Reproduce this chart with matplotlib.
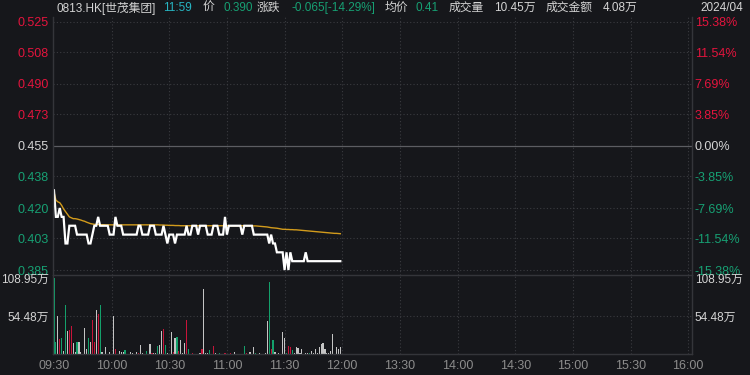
import matplotlib.pyplot as plt

plt.rcParams['font.family'] = ['Liberation Sans', 'Noto Sans CJK SC']

# 分时数据 (09:30 - 11:59, 每分钟一个点)
price = [
    0.430, 0.415, 0.415, 0.420, 0.415, 0.415, 0.400, 0.400, 0.410, 0.410,
    0.410, 0.410, 0.405, 0.405, 0.405, 0.405, 0.405, 0.405, 0.400, 0.400,
    0.405, 0.410, 0.410, 0.415, 0.410, 0.410, 0.410, 0.410, 0.410, 0.405,
    0.405, 0.405, 0.415, 0.410, 0.410, 0.410, 0.405, 0.405, 0.405, 0.405,
    0.405, 0.405, 0.405, 0.405, 0.410, 0.410, 0.405, 0.405, 0.405, 0.405,
    0.410, 0.410, 0.410, 0.405, 0.405, 0.405, 0.405, 0.410, 0.405, 0.400,
    0.405, 0.405, 0.405, 0.400, 0.405, 0.405, 0.405, 0.405, 0.405, 0.410,
    0.405, 0.405, 0.410, 0.410, 0.410, 0.405, 0.410, 0.410, 0.410, 0.410,
    0.405, 0.405, 0.405, 0.410, 0.410, 0.410, 0.405, 0.405, 0.405, 0.415,
    0.405, 0.410, 0.410, 0.410, 0.410, 0.410, 0.410, 0.410, 0.405, 0.410,
    0.410, 0.410, 0.410, 0.410, 0.405, 0.405, 0.405, 0.405, 0.405, 0.405,
    0.405, 0.405, 0.400, 0.405, 0.400, 0.400, 0.395, 0.395, 0.395, 0.395,
    0.385, 0.395, 0.385, 0.395, 0.390, 0.390, 0.390, 0.390, 0.390, 0.390,
    0.390, 0.395, 0.390, 0.390, 0.390, 0.390, 0.390, 0.390, 0.390, 0.390,
    0.390, 0.390, 0.390, 0.390, 0.390, 0.390, 0.390, 0.390, 0.390, 0.390,
]

avg_price = [
    0.4290, 0.4245, 0.4235, 0.4230, 0.4215, 0.4195, 0.4180, 0.4165, 0.4150, 0.4145,
    0.4140, 0.4140, 0.4138, 0.4135, 0.4132, 0.4128, 0.4125, 0.4120, 0.4116, 0.4112,
    0.4110, 0.4108, 0.4107, 0.4107, 0.4106, 0.4106, 0.4106, 0.4105, 0.4105, 0.4105,
    0.4105, 0.4105, 0.4105, 0.4105, 0.4105, 0.4105, 0.4105, 0.4105, 0.4105, 0.4105,
    0.4105, 0.4105, 0.4105, 0.4105, 0.4105, 0.4105, 0.4105, 0.4105, 0.4105, 0.4105,
    0.4105, 0.4105, 0.4105, 0.4105, 0.4105, 0.4104, 0.4104, 0.4104, 0.4103, 0.4103,
    0.4102, 0.4102, 0.4102, 0.4101, 0.4101, 0.4101, 0.4100, 0.4100, 0.4100, 0.4100,
    0.4100, 0.4100, 0.4100, 0.4100, 0.4100, 0.4100, 0.4100, 0.4100, 0.4100, 0.4100,
    0.4100, 0.4100, 0.4100, 0.4100, 0.4100, 0.4100, 0.4100, 0.4100, 0.4100, 0.4100,
    0.4100, 0.4100, 0.4100, 0.4100, 0.4100, 0.4100, 0.4100, 0.4100, 0.4100, 0.4100,
    0.4100, 0.4100, 0.4100, 0.4100, 0.4099, 0.4099, 0.4098, 0.4097, 0.4096, 0.4095,
    0.4094, 0.4093, 0.4091, 0.4089, 0.4088, 0.4087, 0.4086, 0.4084, 0.4082, 0.4080,
    0.4080, 0.4079, 0.4079, 0.4078, 0.4078, 0.4077, 0.4077, 0.4076, 0.4075, 0.4074,
    0.4073, 0.4072, 0.4071, 0.4070, 0.4069, 0.4068, 0.4067, 0.4066, 0.4065, 0.4064,
    0.4063, 0.4062, 0.4061, 0.4060, 0.4059, 0.4058, 0.4057, 0.4057, 0.4056, 0.4055,
]

# 成交量 (万) 和颜色: r 上涨, g 下跌, w 平
volume = [
    108.95, 17.2, 55.4, 21.4, 23.7, 4.0, 70.8, 33.0, 34.4, 40.4,
    15.8, 2.7, 18.0, 16.8, 2.7, 0.5, 37.7, 7.9, 23.7, 16.8,
    49.0, 18.0, 63.3, 57.2, 70.3, 3.3, 0.0, 9.8, 0.0, 3.3,
    0.0, 55.4, 7.9, 0.0, 4.0, 3.0, 2.5, 6.0, 0.0, 0.0,
    3.0, 1.5, 0.0, 3.0, 1.5, 13.5, 1.5, 0.0, 5.0, 0.0,
    14.4, 1.5, 1.5, 1.5, 11.2, 13.5, 33.5, 36.7, 12.6, 1.5,
    0.0, 31.3, 3.0, 23.7, 24.1, 4.0, 20.5, 1.5, 15.8, 49.0,
    6.5, 0.0, 1.0, 0.0, 0.0, 0.0, 1.0, 7.4, 93.6, 1.5,
    2.0, 6.0, 0.0, 11.2, 1.0, 0.0, 1.0, 0.0, 0.0, 1.0,
    0.0, 0.0, 1.0, 0.0, 3.5, 0.0, 0.0, 0.0, 0.0, 11.2,
    1.0, 0.0, 3.3, 0.0, 9.8, 2.0, 0.0, 1.0, 0.0, 0.0,
    1.0, 47.0, 104.3, 7.4, 20.0, 3.3, 0.0, 1.0, 0.0, 32.4,
    23.0, 2.0, 11.2, 9.8, 6.0, 1.0, 9.8, 9.0, 1.0, 7.9,
    0.0, 0.8, 0.8, 1.0, 4.0, 2.0, 7.9, 2.0, 9.8, 14.7,
    16.0, 6.5, 0.8, 0.8, 5.0, 28.3, 0.0, 9.8, 6.5, 9.4,
]
vol_dir = list(
    "ggwrgwgwrr"
    "wwgwwwwwgw"
    "rrwrgwwwww"
    "wwrwwwwgww"
    "wwwwrwwwgw"
    "wrwwgwwrgw"
    "wwrwgrwwwr"
    "gwrwwwwrww"
    "wgwrwwgwwr"
    "wwrwwwwwwg"
    "rwwwwgwwww"
    "wwgrgwwwww"
    "wgrrgwwwww"
    "wwwgwwwwww"
    "wwwwwwwwww"
)

prev_close = 0.455
price_ticks = [0.525, 0.508, 0.490, 0.473, 0.455, 0.438, 0.420, 0.403, 0.385]
pct_labels = ['15.38%', '11.54%', '7.69%', '3.85%', '0.00%',
              '-3.85%', '-7.69%', '-11.54%', '-15.38%']
vol_ticks = [108.95, 54.48]
vol_labels = ['108.95万', '54.48万']
time_labels = ['09:30', '10:00', '10:30', '11:00', '11:30', '12:00',
               '13:30', '14:00', '14:30', '15:00', '15:30', '16:00']

bg = '#16171b'
red = '#e3143d'
green = '#17a073'
grey_txt = '#d4d4d4'
grid_c = '#3a3b40'
border_c = '#34353a'
bar_colors = {'r': '#c8143a', 'g': '#14a06b', 'w': '#c4c4c4'}

fig = plt.figure(figsize=(7.5, 3.75), dpi=100, facecolor=bg)
ax = fig.add_axes([53/750, 1-275/375, 639/750, 258/375], facecolor=bg)
axv = fig.add_axes([53/750, 1-354/375, 639/750, 79/375], facecolor=bg)

xs = list(range(len(price)))
ticks_x = list(range(0, 331, 30))

# 价格面板
for p in price_ticks:
    if p == prev_close:
        ax.axhline(p, color='#5c5d62', lw=0.9, zorder=1)
    else:
        ax.axhline(p, color=grid_c, lw=0.8, ls=(0, (1, 2)), zorder=1)
for t in ticks_x[1:]:
    ax.axvline(t, color=grid_c, lw=0.8, ls=(0, (1, 2)), zorder=1)
    axv.axvline(t, color=grid_c, lw=0.8, ls=(0, (1, 2)), zorder=1)

ax.plot(xs, avg_price, color='#d29b1c', lw=1.0, zorder=3)
ax.plot(xs, price, color='white', lw=1.6, solid_joinstyle='miter', zorder=4)

span = 0.0728
ax.set_xlim(-0.5, 332)
ax.set_ylim(prev_close - span, prev_close + span)
ax.set_yticks(price_ticks)
ax.set_yticklabels([f'{p:.3f}' for p in price_ticks])
ax.set_xticks([])
ax.tick_params(axis='y', length=0, pad=3, labelsize=9)

ax2 = ax.twinx()
ax2.set_ylim(ax.get_ylim())
ax2.set_yticks(price_ticks)
ax2.set_yticklabels(pct_labels)
ax2.tick_params(axis='y', length=0, pad=2, labelsize=9)

for lab_l, lab_r, p in zip(ax.get_yticklabels(), ax2.get_yticklabels(), price_ticks):
    c = red if p > prev_close else (green if p < prev_close else grey_txt)
    lab_l.set_color(c)
    lab_r.set_color(c)

for a in (ax, ax2):
    for s in a.spines.values():
        s.set_color(border_c)
        s.set_linewidth(0.9)
    a.spines['top'].set_visible(False)
    a.spines['bottom'].set_visible(False)

# 成交量面板
axv.bar(xs, volume, width=0.6, color=[bar_colors[d] for d in vol_dir], zorder=3)
axv.axhline(vol_ticks[1], color=grid_c, lw=0.8, ls=(0, (1, 2)), zorder=1)
axv.set_xlim(-0.5, 332)
axv.set_ylim(0, 114)
axv.set_yticks(vol_ticks)
axv.set_yticklabels(vol_labels)
axv.set_xticks(ticks_x)
axv.set_xticklabels(time_labels)
axv.tick_params(axis='y', length=0, pad=3, labelsize=8.5, labelcolor=grey_txt)
axv.tick_params(axis='x', length=0, pad=4, labelsize=9, labelcolor='#8c8c8c')

axv2 = axv.twinx()
axv2.set_ylim(axv.get_ylim())
axv2.set_yticks(vol_ticks)
axv2.set_yticklabels(vol_labels)
axv2.tick_params(axis='y', length=0, pad=2, labelsize=8.5, labelcolor=grey_txt)

for a in (axv, axv2):
    for s in a.spines.values():
        s.set_color(border_c)
        s.set_linewidth(0.9)

# 顶部信息栏
hy = 1 - 8/375
header = [
    (56, '0813.HK[世茂集团]', grey_txt),
    (163, '11:59', '#27b5c2'),
    (203, '价', grey_txt),
    (223, '0.390', green),
    (257, '涨跌', grey_txt),
    (291, '-0.065[-14.29%]', green),
    (385, '均价', grey_txt),
    (416, '0.41', green),
    (449, '成交量', grey_txt),
    (494, '10.45万', grey_txt),
    (546, '成交金额', grey_txt),
    (603, '4.08万', grey_txt),
]
for x, txt, c in header:
    fig.text(x/750, hy, txt, color=c, fontsize=8.5, va='center', ha='left')
fig.text(743/750, hy, '2024/04', color=grey_txt, fontsize=8.5, va='center', ha='right')

fig.savefig('out.png', dpi=100, facecolor=bg)
